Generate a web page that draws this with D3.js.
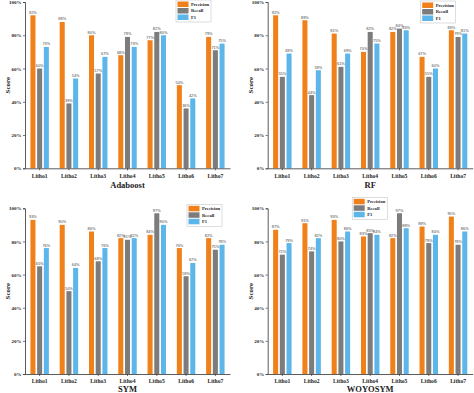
<!DOCTYPE html>
<html>
<head>
<meta charset="utf-8">
<script src="https://cdn.jsdelivr.net/npm/d3@7"></script>
<style>
  html, body { margin: 0; padding: 0; background: #fff; }
  svg { display: block; }
</style>
</head>
<body>
<div id="chart"></div>
<script>
// Categories and series
const categories = ['Litho1', 'Litho2', 'Litho3', 'Litho4', 'Litho5', 'Litho6', 'Litho7'];
const seriesNames = ['Precision', 'Recall', 'F1'];
const yTicks = [0, 20, 40, 60, 80, 100];

// Adaboost
const adaPrecision = [92, 88, 80, 68, 77, 50, 79];
const adaRecall = [60, 39, 57, 79, 82, 36, 71];
const adaF1 = [73, 54, 67, 73, 80, 42, 75];

// RF
const rfPrecision = [92, 89, 81, 70, 82, 67, 83];
const rfRecall = [55, 44, 61, 82, 84, 55, 79];
const rfF1 = [69, 59, 69, 75, 83, 60, 81];

// SYM
const symPrecision = [93, 90, 86, 82, 84, 76, 82];
const symRecall = [65, 50, 68, 81, 97, 59, 75];
const symF1 = [76, 64, 76, 82, 90, 67, 78];

// WOYOSYM
const woyPrecision = [87, 91, 93, 83, 82, 89, 95];
const woyRecall = [72, 74, 80, 85, 97, 79, 78];
const woyF1 = [79, 82, 86, 84, 88, 84, 86];

const colors = ['#f0801a', '#7c7c7c', '#5cb6ea'];
const serif = '"Liberation Serif", "Times New Roman", serif';
const sans = '"Liberation Sans", Arial, sans-serif';

const W = 474, H = 393;
const svg = d3.select('#chart').append('svg')
    .attr('width', W)
    .attr('height', H);

// Panel layout
const panels = [
    { title: 'Adaboost', values: [adaPrecision, adaRecall, adaF1], x0: 25, top: 2, bottom: 168.3, titleY: 188, legend: [151, -2] },
    { title: 'RF', values: [rfPrecision, rfRecall, rfF1], x0: 267.7, top: 2, bottom: 168.3, titleY: 188, legend: [153, -1] },
    { title: 'SYM', values: [symPrecision, symRecall, symF1], x0: 25, top: 208.3, bottom: 374, titleY: 391.5, legend: [162, -4] },
    { title: 'WOYOSYM', values: [woyPrecision, woyRecall, woyF1], x0: 267.7, top: 208.3, bottom: 374, titleY: 391.5, legend: [84.5, -11] }
];

const plotWidth = 205;

panels.forEach(p => drawPanel(p));

function drawPanel(p) {
    const g = svg.append('g').attr('transform', `translate(${p.x0},0)`);

    const x = d3.scaleBand()
        .domain(categories)
        .range([0, plotWidth])
        .paddingInner(0.37)
        .paddingOuter(0.185);

    const xInner = d3.scaleBand()
        .domain(seriesNames)
        .range([0, x.bandwidth()])
        .paddingInner(0.25);

    const y = d3.scaleLinear()
        .domain([0, 100])
        .range([p.bottom, p.top]);

    // Bars
    const groups = g.selectAll('g.group')
        .data(categories)
        .join('g')
        .attr('class', 'group')
        .attr('transform', d => `translate(${x(d)},0)`);

    groups.each(function(cat, ci) {
        const rows = seriesNames.map((s, si) => ({ s, si, v: p.values[si][ci] }));
        const gg = d3.select(this);
        gg.selectAll('rect')
            .data(rows)
            .join('rect')
            .attr('x', d => xInner(d.s))
            .attr('y', d => y(d.v))
            .attr('width', xInner.bandwidth())
            .attr('height', d => y(0) - y(d.v))
            .attr('fill', d => colors[d.si]);
        gg.selectAll('text')
            .data(rows)
            .join('text')
            .attr('x', d => xInner(d.s) + xInner.bandwidth() / 2)
            .attr('y', d => y(d.v) - 1.5)
            .attr('text-anchor', 'middle')
            .attr('font-family', sans)
            .attr('font-size', 3.9)
            .attr('fill', '#444')
            .text(d => d.v + '%');
    });

    // Y axis
    const yAxis = g.append('g')
        .call(d3.axisLeft(y).tickValues(yTicks).tickSize(2).tickFormat(d => d + '%'));
    yAxis.select('.domain').attr('stroke', '#333').attr('stroke-width', 0.8);
    yAxis.selectAll('.tick line').attr('stroke', '#333').attr('stroke-width', 0.7);
    yAxis.selectAll('.tick text')
        .attr('font-family', serif)
        .attr('font-weight', 'bold')
        .attr('font-size', 5)
        .attr('fill', '#222')
        .attr('x', -3.5);

    // X axis
    const xAxis = g.append('g')
        .attr('transform', `translate(0,${p.bottom})`)
        .call(d3.axisBottom(x).tickSize(2).tickSizeOuter(0));
    xAxis.select('.domain').attr('stroke', '#333').attr('stroke-width', 0.8);
    xAxis.selectAll('.tick line').attr('stroke', '#333').attr('stroke-width', 0.7);
    xAxis.selectAll('.tick text')
        .attr('font-family', serif)
        .attr('font-weight', 'bold')
        .attr('font-size', 5.6)
        .attr('fill', '#222')
        .attr('y', 5.5);

    // Score label
    const midY = (p.top + p.bottom) / 2;
    g.append('text')
        .attr('transform', `translate(-15,${midY}) rotate(-90)`)
        .attr('text-anchor', 'middle')
        .attr('font-family', serif)
        .attr('font-weight', 'bold')
        .attr('font-size', 7)
        .attr('fill', '#222')
        .text('Score');

    // Panel title
    g.append('text')
        .attr('x', plotWidth / 2)
        .attr('y', p.titleY)
        .attr('text-anchor', 'middle')
        .attr('font-family', serif)
        .attr('font-weight', 'bold')
        .attr('font-size', 8.5)
        .attr('fill', '#222')
        .text(p.title);

    // Legend
    const lg = g.append('g')
        .attr('transform', `translate(${p.legend[0]},${p.top + p.legend[1]})`);
    lg.append('rect')
        .attr('x', 0).attr('y', 0)
        .attr('width', 35).attr('height', 22)
        .attr('fill', '#fff')
        .attr('stroke', '#bbb')
        .attr('stroke-width', 0.5);
    const items = lg.selectAll('g.item')
        .data(seriesNames)
        .join('g')
        .attr('class', 'item')
        .attr('transform', (d, i) => `translate(1.5,${1.5 + i * 6.5})`);
    items.append('rect')
        .attr('width', 11)
        .attr('height', 5.5)
        .attr('fill', (d, i) => colors[i]);
    items.append('text')
        .attr('x', 13.5)
        .attr('y', 4.3)
        .attr('font-family', serif)
        .attr('font-weight', 'bold')
        .attr('font-size', 4.6)
        .attr('fill', '#222')
        .text(d => d);
}
</script>
</body>
</html>
